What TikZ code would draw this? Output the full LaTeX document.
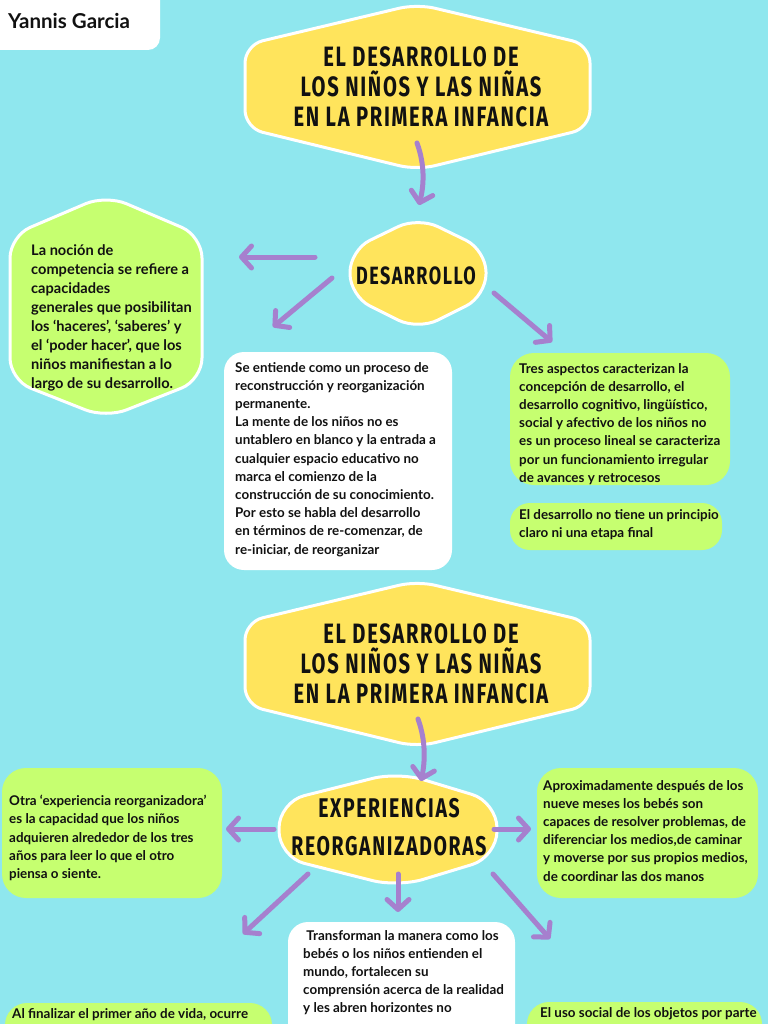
\documentclass[tikz,border=0pt]{standalone}
\usepackage{fontspec}
\setmainfont{Lato}
\newfontfamily\titlefont[FakeStretch=0.72,LetterSpace=6]{Fira Sans}
\usetikzlibrary{arrows.meta}
\definecolor{bg}{RGB}{143,231,238}
\definecolor{ylw}{RGB}{255,228,92}
\definecolor{grn}{RGB}{198,255,112}
\definecolor{prp}{RGB}{166,128,206}
\definecolor{ink}{RGB}{17,17,17}
\begin{document}
\begin{tikzpicture}[x=1pt,y=-1pt,
  arr/.style={draw=prp, line width=5pt, line cap=round,
    -{Straight Barb[length=10pt,width=22pt,line cap=round,line join=round]}},
  yshape/.style={fill=ylw, draw=white, line width=3pt},
  gbox/.style={fill=grn},
  wbox/.style={fill=white},
  ttl/.style={font=\titlefont\bfseries\fontsize{28}{30}\selectfont, text=ink, align=center, inner sep=0pt},
  body/.style={font=\bfseries\fontsize{13.4}{18.2}\selectfont, text=ink, align=left, inner sep=0pt, anchor=north west}
]
\useasboundingbox (0,0) rectangle (768,1024);
\clip (0,0) rectangle (768,1024);
\fill[bg] (0,0) rectangle (768,1024);

% name box
\path[wbox, rounded corners=12pt] (-20,-20) rectangle (160,50);
\node[anchor=west, inner sep=0pt, font=\bfseries\fontsize{20.5}{22}\selectfont, text=ink] (name) at (8,21) {Yannis Garcia};

% ---------- first part ----------
\path[yshape, rounded corners=18pt] (245,45) -- (417,4) -- (590,45) -- (590,128) -- (417,170) -- (245,128) -- cycle;
\node[ttl] (t1) at (421,87) {EL DESARROLLO DE\\LOS NIÑOS Y LAS NIÑAS\\EN LA PRIMERA INFANCIA};

\path[yshape, rounded corners=22pt] (350,250) -- (418,217) -- (486,250) -- (486,296) -- (418,330) -- (350,296) -- cycle;
\node[ttl, font=\titlefont\bfseries\fontsize{25}{30}\selectfont] (des) at (416,276) {DESARROLLO};

\coordinate (a0s) at (417,143); \coordinate (a0e) at (419,205);
\draw[arr] (a0s) .. controls (425,165) and (424,185) .. (a0e);

\coordinate (d1s) at (315,257); \coordinate (d1e) at (239,257);
\coordinate (d2s) at (332,278); \coordinate (d2e) at (273,327);
\coordinate (d3s) at (494,293); \coordinate (d3e) at (552,342);
\draw[arr] (d1s) -- (d1e);
\draw[arr] (d2s) -- (d2e);
\draw[arr] (d3s) -- (d3e);

\path[fill=grn, draw=white, line width=3pt, rounded corners=22pt] (10,236) -- (106,195) -- (202,236) -- (202,380) -- (106,418) -- (10,380) -- cycle;
\node[body, font=\bfseries\fontsize{14.6}{19}\selectfont] (g1) at (31,244) {La noción de\\competencia se refiere a\\capacidades\\generales que posibilitan\\los ‘haceres’, ‘saberes’ y\\el ‘poder hacer’, que los\\niños manifiestan a lo\\largo de su desarrollo.};

\path[wbox, rounded corners=20pt] (224,352) rectangle (452,570);
\node[body] (w1) at (235,362) {Se entiende como un proceso de\\reconstrucción y reorganización\\permanente.\\La mente de los niños no es\\untablero en blanco y la entrada a\\cualquier espacio educativo no\\marca el comienzo de la\\construcción de su conocimiento.\\Por esto se habla del desarrollo\\en términos de re-comenzar, de\\re-iniciar, de reorganizar};

\path[gbox, rounded corners=24pt] (510,353) rectangle (730,485);
\node[body] (g2) at (519,363) {Tres aspectos caracterizan la\\concepción de desarrollo, el\\desarrollo cognitivo, lingüístico,\\social y afectivo de los niños no\\es un proceso lineal se caracteriza\\por un funcionamiento irregular\\de avances y retrocesos};

\path[gbox, rounded corners=20pt] (510,503) rectangle (722,550);
\node[body] (g3) at (519,509) {El desarrollo no tiene un principio\\claro ni una etapa final};

% ---------- second part ----------
\path[yshape, rounded corners=18pt] (245,622) -- (417,581) -- (590,622) -- (590,705) -- (417,747) -- (245,705) -- cycle;
\node[ttl] (t2) at (421,664) {EL DESARROLLO DE\\LOS NIÑOS Y LAS NIÑAS\\EN LA PRIMERA INFANCIA};

\path[yshape, rounded corners=26pt] (279,802) -- (398,772) -- (497,802) -- (497,857) -- (398,887) -- (279,857) -- cycle;
\node[ttl, font=\titlefont\bfseries\fontsize{27}{38}\selectfont] (exp) at (389,827) {EXPERIENCIAS\\REORGANIZADORAS};

\coordinate (b0s) at (418,719); \coordinate (b0e) at (421,781);
\draw[arr] (b0s) .. controls (426,741) and (425,762) .. (b0e);

\coordinate (e1s) at (274,829); \coordinate (e1e) at (226,829);
\coordinate (e2s) at (494,829); \coordinate (e2e) at (531,829);
\coordinate (e3s) at (308,874); \coordinate (e3e) at (243,934);
\coordinate (e4s) at (398,874); \coordinate (e4e) at (398,912);
\coordinate (e5s) at (493,874); \coordinate (e5e) at (550,939);
\draw[arr] (e1s) -- (e1e);
\draw[arr] (e2s) -- (e2e);
\draw[arr] (e3s) -- (e3e);
\draw[arr] (e4s) -- (e4e);
\draw[arr] (e5s) -- (e5e);

\path[gbox, rounded corners=24pt] (2,768) rectangle (222,898);
\node[body] (g4) at (9,795) {Otra ‘experiencia reorganizadora’\\es la capacidad que los niños\\adquieren alrededor de los tres\\años para leer lo que el otro\\piensa o siente.};

\path[gbox, rounded corners=24pt] (537,768) rectangle (758,898);
\node[body] (g5) at (543,780) {Aproximadamente después de los\\nueve meses los bebés son\\capaces de resolver problemas, de\\diferenciar los medios,de caminar\\y moverse por sus propios medios,\\de coordinar las dos manos};

\path[wbox, rounded corners=20pt] (288,922) rectangle (515,1080);
\node[body] (w2) at (303,930) {\ Transforman la manera como los\\bebés o los niños entienden el\\mundo, fortalecen su\\comprensión acerca de la realidad\\y les abren horizontes no};

\path[gbox, rounded corners=22pt] (5,1003) rectangle (272,1080);
\node[body] (g6) at (12,1008) {Al finalizar el primer año de vida, ocurre};

\path[gbox, rounded corners=22pt] (527,1002) rectangle (762,1080);
\node[body] (g7) at (540,1007) {El uso social de los objetos por parte};
\end{tikzpicture}
\end{document}
